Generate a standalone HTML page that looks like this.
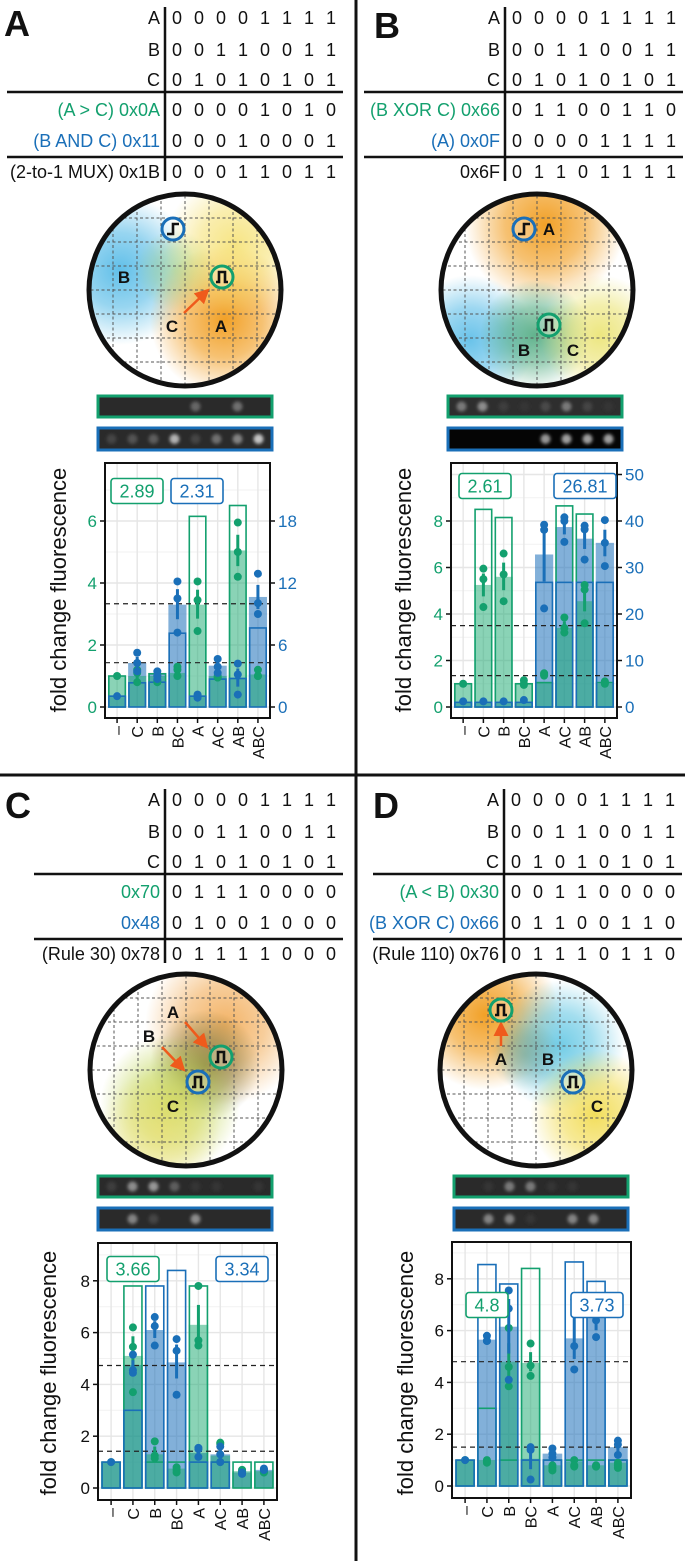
<!DOCTYPE html>
<html><head><meta charset="utf-8">
<style>
html,body{margin:0;padding:0;background:#fff;}
svg{display:block;font-family:"Liberation Sans",sans-serif;}
</style></head>
<body>
<svg id="fig" width="685" height="1561" viewBox="0 0 685 1561" xmlns="http://www.w3.org/2000/svg">
<defs>
  <marker id="arrowhead" markerWidth="6" markerHeight="6" refX="4" refY="3" orient="auto" markerUnits="strokeWidth">
    <path d="M0,0 L6,3 L0,6 Z" fill="#ef5a1c"/>
  </marker>
  <filter id="soft" x="-50%" y="-50%" width="200%" height="200%"><feGaussianBlur stdDeviation="1.6"/></filter>
</defs>
<line x1="356" y1="0" x2="356" y2="1561" stroke="#111" stroke-width="3"/>
<line x1="0" y1="775" x2="685" y2="775" stroke="#111" stroke-width="3"/>
<g id="layer"></g>
</svg>
<script>
const NS="http://www.w3.org/2000/svg";
const GREEN="#13a06e", BLUE="#1a6fb8";
const GFILL="rgba(22,168,110,0.5)", BFILL="rgba(28,112,185,0.55)";
const root=document.getElementById('layer');
function mk(tag,attrs,parent,text){
  const e=document.createElementNS(NS,tag);
  for(const k in attrs) e.setAttribute(k,attrs[k]);
  if(text!==undefined) e.textContent=text;
  (parent||root).appendChild(e);
  return e;
}

/* ---------------- data: categories ---------------- */
const categories=["\u2013","C","B","BC","A","AC","AB","ABC"];

/* Panel A (green in left units, blue in right units) */
const A_greenMean=[1.0,1.0,1.0,1.1,3.3,1.0,5.05,1.05];
const A_greenExp=[1.0,0,1.07,0,6.15,0,6.5,0];
const A_greenPts=[[1.0],[1.2,1.1,0.8],[1.0,0.85,0.8],[1.3,1.2,1.0],[4.05,3.45,2.45],[1.0,0.95,0.95],[5.95,5.0,4.2],[1.2,1.0,1.0]];
const A_blueMean=[1.05,4.26,3.3,9.9,1.05,4.0,2.85,10.65];
const A_blueExp=[1.05,2.34,2.4,7.14,1.05,2.7,2.76,7.65];
const A_bluePts=[[1.05],[5.25,4.26,3.45],[3.45,3.0,2.7],[12.15,10.5,7.2],[1.2,0.9,1.05],[4.65,3.9,3.3],[4.2,3.15,1.2],[12.9,10.05,9.0]];
const A_thresholds=[3.33,1.43];

/* Panel B */
const B_greenMean=[1.0,5.25,5.6,1.0,1.05,3.4,4.55,1.0];
const B_greenExp=[1.0,8.5,8.15,1.0,1.05,8.65,8.3,1.05];
const B_greenPts=[[1.0],[5.95,5.5,4.3],[6.6,5.7,4.55],[1.15,1.0,0.95],[1.45,1.4,1.35],[3.85,3.4,3.2],[5.25,5.05,3.6],[1.1,1.05,1.0]];
const B_blueMean=[1.0,1.0,1.0,1.0,32.8,38.7,36.2,35.3];
const B_blueExp=[1.0,1.0,1.0,1.0,26.8,26.8,26.8,26.8];
const B_bluePts=[[1.2],[1.2],[1.2],[1.5],[39.2,38.1,21.2],[40.8,40,35.5],[39,38.2,31.7],[40.2,35.3,30.3]];
const B_thresholds=[3.5,1.35];

/* Panel C */
const C_greenMean=[1.0,5.1,1.3,0.75,6.3,1.25,0.65,0.65];
const C_greenExp=[1.0,7.8,1.0,1.0,7.8,1.0,1.0,1.0];
const C_greenPts=[[1.0],[6.2,5.45,3.7],[1.8,1.25,1.15],[0.8,0.7,0.6],[7.8,5.7,5.5],[1.75,1.7,1.0],[0.7,0.65,0.65],[0.65,0.6,0.6]];
const C_blueMean=[1.0,4.75,6.1,4.85,1.35,1.3,0.6,0.7];
const C_blueExp=[1.0,3.0,7.8,8.4,1.0,1.0,0,0];
const C_bluePts=[[1.0],[5.15,4.55,4.45],[6.6,6.25,5.5],[5.75,5.3,3.6],[1.55,1.5,1.2],[1.6,1.3,1.0],[0.6,0.55,0.55],[0.75,0.7,0.7]];
const C_thresholds=[4.73,1.42];

/* Panel D */
const D_greenMean=[1.0,1.0,4.8,4.75,0.8,0.95,0.8,0.9];
const D_greenExp=[1.0,3.0,1.0,8.4,1.0,1.0,1.0,1.0];
const D_greenPts=[[1.0],[1.0,0.95,0.9],[6.1,4.6,3.85],[5.5,4.65,4.25],[0.8,0.7,0.6],[1.0,0.8,0.75],[0.8,0.75,0.75],[0.9,0.8,0.7]];
const D_blueMean=[1.0,5.65,6.15,1.05,1.25,5.7,6.8,1.5];
const D_blueExp=[1.0,8.55,7.8,1.0,1.0,8.65,7.9,1.0];
const D_bluePts=[[1.0],[5.8,5.6,5.6],[7.55,6.85,4.1],[1.5,1.4,0.25],[1.45,1.25,1.1],[7.2,5.4,4.5],[6.8,6.4,5.75],[1.75,1.6,1.2]];
const D_thresholds=[4.8,1.5];

/* tick labels */
const A_leftTicks=[0,2,4,6], A_rightTicks=[0,6,12,18];
const B_leftTicks=[0,2,4,6,8], B_rightTicks=[0,10,20,30,40,50];
const C_leftTicks=[0,2,4,6,8];
const D_leftTicks=[0,2,4,6,8];

/* truth tables */
const inA=[0,0,0,0,1,1,1,1], inB=[0,0,1,1,0,0,1,1], inC=[0,1,0,1,0,1,0,1];
const tables={
 A:{g:["(A > C) 0x0A",[0,0,0,0,1,0,1,0]],b:["(B AND C) 0x11",[0,0,0,1,0,0,0,1]],o:["(2-to-1 MUX) 0x1B",[0,0,0,1,1,0,1,1]]},
 B:{g:["(B XOR C) 0x66",[0,1,1,0,0,1,1,0]],b:["(A) 0x0F",[0,0,0,0,1,1,1,1]],o:["0x6F",[0,1,1,0,1,1,1,1]]},
 C:{g:["0x70",[0,1,1,1,0,0,0,0]],b:["0x48",[0,1,0,0,1,0,0,0]],o:["(Rule 30) 0x78",[0,1,1,1,1,0,0,0]]},
 D:{g:["(A < B) 0x30",[0,0,1,1,0,0,0,0]],b:["(B XOR C) 0x66",[0,1,1,0,0,1,1,0]],o:["(Rule 110) 0x76",[0,1,1,1,0,1,1,0]]}
};

/* gel lane brightness */
const gelA_g=[0,0,0,0,0.3,0,0.35,0], gelA_b=[0.12,0.2,0.25,0.7,0.12,0.35,0.45,0.8];
const gelB_g=[0.4,0.5,0.08,0.04,0.15,0.4,0.12,0.04], gelB_b=[0,0,0,0,0.55,0.6,0.6,0.6];
const gelC_g=[0.08,0.5,0.55,0.25,0.04,0.04,0,0.04], gelC_b=[0,0.45,0.12,0,0.5,0,0,0];
const gelD_g=[0,0.04,0.4,0.4,0.04,0.04,0,0], gelD_b=[0,0.45,0.45,0.04,0,0.45,0.45,0];

/* ---------------- panel labels ---------------- */
[["A",4,36],["B",374,38],["C",5,818],["D",373,818]].forEach(([t,x,y])=>{
  const e=mk('text',{x:x,y:y,'font-size':36,'font-weight':'bold',fill:'#111'},root,t);
  
  
});

/* ---------------- truth tables ---------------- */
function drawTable(key,vx,lineStart,dy){
  const g=mk('g',{});
  
  
  const cols=[0,1,2,3,4,5,6,7].map(i=>vx+12+i*22);
  const rows=[
    ["A",inA,"#111",24],["B",inB,"#111",56],["C",inC,"#111",86],
    [tables[key].g[0],tables[key].g[1],GREEN,116],
    [tables[key].b[0],tables[key].b[1],BLUE,147],
    [tables[key].o[0],tables[key].o[1],"#111",178]];
  rows.forEach((r,ri)=>{
    const lab=mk('text',{x:vx-5,y:r[3]+dy,'text-anchor':'end','font-size':18,fill:r[2]},g,r[0]);
    
    
    r[1].forEach((v,ci)=>{
      const t=mk('text',{x:cols[ci],y:r[3]+dy,'text-anchor':'middle','font-size':18,fill:'#111'},g,String(v));
      
      
    });
  });
  mk('line',{x1:vx,y1:7+dy,x2:vx,y2:181+dy,stroke:'#111','stroke-width':2.5},g);
  mk('line',{x1:lineStart,y1:92+dy,x2:vx+178,y2:92+dy,stroke:'#111','stroke-width':2.5},g);
  mk('line',{x1:lineStart,y1:157+dy,x2:vx+178,y2:157+dy,stroke:'#111','stroke-width':2.5},g);
}
drawTable("A",165,7,0);
drawTable("B",505,364,0);
drawTable("C",165,34,782);
drawTable("D",504,373,782);

/* ---------------- petri dishes ---------------- */
let gradId=0;
function blob(parent,defs,cx,cy,r,color,op){
  const id='gr'+(gradId++);
  const rg=mk('radialGradient',{id:id},defs);
  mk('stop',{offset:'0%','stop-color':color,'stop-opacity':op},rg);
  mk('stop',{offset:'50%','stop-color':color,'stop-opacity':op*0.65},rg);
  mk('stop',{offset:'100%','stop-color':color,'stop-opacity':0},rg);
  mk('circle',{cx:cx,cy:cy,r:r,fill:'url(#'+id+')'},parent);
}
function marker(parent,x,y,color,kind){
  const g=mk('g',{transform:`translate(${x},${y})`},parent);
  
  
  mk('circle',{r:11,fill:'rgba(255,255,255,0.25)',stroke:color,'stroke-width':3},g);
  const d= kind==='step' ? "M-6,5 H0 V-5 H6" : "M-6,5 H-3 V-5 H3 V5 H6";
  mk('path',{d:d,fill:'none',stroke:'#111','stroke-width':2.6},g);
}
function dish(name,cx,cy,blobs,markers,labels,arrows){
  const g=mk('g',{});
  
  
  const defs=mk('defs',{},g);
  const cid='clip'+name;
  const cp=mk('clipPath',{id:cid},defs);
  mk('circle',{cx:cx,cy:cy,r:96},cp);
  const inner=mk('g',{'clip-path':'url(#'+cid+')'},g);
  mk('circle',{cx:cx,cy:cy,r:96,fill:'#fff'},inner);
  blobs.forEach(b=>blob(inner,defs,b[0],b[1],b[2],b[3],b[4]));
  for(let k=-3;k<=3;k++){
    mk('line',{x1:cx+k*24,y1:cy-100,x2:cx+k*24,y2:cy+100,stroke:'#555','stroke-width':1,'stroke-dasharray':'3,2.5'},inner);
    mk('line',{x1:cx-100,y1:cy+k*24,x2:cx+100,y2:cy+k*24,stroke:'#555','stroke-width':1,'stroke-dasharray':'3,2.5'},inner);
  }
  mk('circle',{cx:cx,cy:cy,r:96,fill:'none',stroke:'#111','stroke-width':5},g);
  arrows.forEach(a=>mk('line',{x1:a[0],y1:a[1],x2:a[2],y2:a[3],stroke:'#ef5a1c','stroke-width':2.5,'marker-end':'url(#arrowhead)'},g));
  markers.forEach(m=>marker(g,m[0],m[1],m[2],m[3]));
  labels.forEach(l=>{
    const t=mk('text',{x:l[1],y:l[2]+6,'text-anchor':'middle','font-size':17,'font-weight':'bold',fill:'#111'},g,l[0]);
    
    
  });
}
dish("a",185,290,
 [[120,270,75,'#4fb8e6',0.9],[225,320,75,'#f0960f',0.9],[235,245,70,'#f4dc5a',0.75],[175,270,40,'#9cc850',0.4]],
 [[173,229,BLUE,'step'],[222,277,GREEN,'pulse']],
 [["B",124,277],["C",172,326],["A",221,326]],
 [[184,313,206,292]]);
dish("b",537,290,
 [[545,225,80,'#f0960f',0.9],[470,340,65,'#4fb8e6',0.85],[535,335,55,'#3aa070',0.8],[600,335,60,'#e8e060',0.8]],
 [[524,229,BLUE,'step'],[549,325,GREEN,'pulse']],
 [["A",549,229],["B",524,350],["C",573,350]],
 []);
dish("c",186,1070,
 [[225,1025,80,'#f0a040',0.8],[205,1065,55,'#6a6a30',0.7],[170,1105,70,'#b8d040',0.8],[160,1130,60,'#f0e070',0.6]],
 [[221,1057,GREEN,'pulse'],[198,1082,BLUE,'pulse']],
 [["A",173,1012],["B",149,1036],["C",173,1106]],
 [[185,1022,205,1045],[162,1047,182,1068]]);
dish("d",536,1070,
 [[485,1015,75,'#f0960f',0.9],[560,1045,65,'#4fc0e0',0.8],[595,1115,65,'#f0d840',0.85],[525,1055,35,'#5a8a70',0.4]],
 [[501,1010,GREEN,'pulse'],[573,1082,BLUE,'pulse']],
 [["A",501,1059],["B",548,1059],["C",597,1106]],
 [[501,1046,501,1026]]);

/* ---------------- gel strips ---------------- */
function gel(name,x,y,w,h,color,bg,lanes){
  const g=mk('g',{});
  
  
  mk('rect',{x:x,y:y,width:w,height:h,fill:bg,stroke:color,'stroke-width':3},g);
  const step=(w-6)/8;
  lanes.forEach((v,i)=>{
    if(v<=0) return;
    const c=Math.round(45+190*v);
    mk('circle',{cx:x+3+step*(i+0.5),cy:y+h/2,r:5,fill:`rgb(${c},${c},${c})`,filter:'url(#soft)'},g);
  });
}
gel("a-green",98,396,174,21,GREEN,'#2a2a2a',gelA_g);
gel("a-blue",98,428,174,22,BLUE,'#2a2a2a',gelA_b);
gel("b-green",448,396,174,21,GREEN,'#2e2e2e',gelB_g);
gel("b-blue",448,428,174,22,BLUE,'#050505',gelB_b);
gel("c-green",98,1176,174,21,GREEN,'#2a2a2a',gelC_g);
gel("c-blue",98,1208,174,22,BLUE,'#2a2a2a',gelC_b);
gel("d-green",454,1176,174,21,GREEN,'#2a2a2a',gelD_g);
gel("d-blue",454,1208,174,22,BLUE,'#2a2a2a',gelD_b);

/* ---------------- charts ---------------- */
function chart(cfg){
  const g=mk('g',{});
  
  
  const x0=cfg.x0,x1=cfg.x1,yT=cfg.yT,yB=cfg.yB;
  const step=(x1-x0)/8.2;
  const xc=i=>x0+step*(0.6+i);
  const yL=v=>cfg.y0-v*cfg.ppu;
  const yR=v=>yL(v/cfg.ratio);
  const bw=step*0.9;
  mk('rect',{x:x0,y:yT,width:x1-x0,height:yB-yT,fill:'#fff'},g);
  for(let v=1; yL(v)>yT; v+=2){ mk('line',{x1:x0,x2:x1,y1:yL(v),y2:yL(v),stroke:'#f2f2f2','stroke-width':1},g); }
  for(let v=0; yL(v)>yT; v+=2){ mk('line',{x1:x0,x2:x1,y1:yL(v),y2:yL(v),stroke:'#e6e6e6','stroke-width':1.4},g); }
  categories.forEach((c,i)=>mk('line',{x1:xc(i),x2:xc(i),y1:yT,y2:yB,stroke:'#e6e6e6','stroke-width':1.4},g));
  const gy=yL;
  const by=cfg.blueScale==='R'?yR:yL;
  categories.forEach((c,i)=>{
    const v=cfg.blueMean[i];
    const r=mk('rect',{x:xc(i)-bw/2,y:by(v),width:bw,height:cfg.y0-by(v),fill:BFILL},g);
    
    
  });
  categories.forEach((c,i)=>{
    const v=cfg.greenMean[i];
    const r=mk('rect',{x:xc(i)-bw/2,y:gy(v),width:bw,height:cfg.y0-gy(v),fill:GFILL},g);
    
    
  });
  categories.forEach((c,i)=>{
    const v=cfg.greenExp[i]; if(v<=0) return;
    const r=mk('rect',{x:xc(i)-bw/2+0.8,y:gy(v),width:bw-1.6,height:cfg.y0-gy(v),fill:'none',stroke:GREEN,'stroke-width':1.6},g);
    
    
  });
  categories.forEach((c,i)=>{
    const v=cfg.blueExp[i]; if(v<=0) return;
    const r=mk('rect',{x:xc(i)-bw/2+0.8,y:by(v),width:bw-1.6,height:cfg.y0-by(v),fill:'none',stroke:BLUE,'stroke-width':1.6},g);
    
    
  });
  cfg.thresholds.forEach(t=>{
    const l=mk('line',{x1:x0,x2:x1,y1:yL(t),y2:yL(t),stroke:'#222','stroke-width':1.2,'stroke-dasharray':'5,4'},g);
    
    
  });
  function pts(arr,col,yf,name){
    arr.forEach((p,i)=>{
      if(p.length>1){
        const m=p.reduce((a,b)=>a+b,0)/p.length;
        const sd=Math.sqrt(p.reduce((a,b)=>a+(b-m)*(b-m),0)/(p.length-1));
        const se=sd/Math.sqrt(p.length);
        const eb=mk('line',{x1:xc(i),x2:xc(i),y1:yf(m-se),y2:yf(m+se),stroke:col,'stroke-width':3},g);
        
        
      }
      p.forEach(v=>{
        const c=mk('circle',{cx:xc(i),cy:yf(v),r:4,fill:col},g);
        
        
      });
    });
  }
  pts(cfg.greenPts,GREEN,gy,'green');
  pts(cfg.bluePts,BLUE,by,'blue');
  mk('rect',{x:x0,y:yT,width:x1-x0,height:yB-yT,fill:'none',stroke:'#111','stroke-width':2},g);
  cfg.leftTicks.forEach(v=>{
    mk('line',{x1:x0-5,x2:x0,y1:yL(v),y2:yL(v),stroke:'#111','stroke-width':1.5},g);
    const t=mk('text',{x:x0-8,y:yL(v)+6,'text-anchor':'end','font-size':17,fill:cfg.leftColor},g,String(v));
    
    
  });
  if(cfg.rightTicks){
    cfg.rightTicks.forEach(v=>{
      mk('line',{x1:x1,x2:x1+5,y1:yR(v),y2:yR(v),stroke:'#111','stroke-width':1.5},g);
      const t=mk('text',{x:x1+8,y:yR(v)+6,'text-anchor':'start','font-size':17,fill:BLUE},g,String(v));
      
      
    });
  }
  categories.forEach((c,i)=>{
    mk('line',{x1:xc(i),x2:xc(i),y1:yB,y2:yB+5,stroke:'#111','stroke-width':1.5},g);
    const t=mk('text',{x:0,y:0,'text-anchor':'end','font-size':16,fill:'#111',transform:`translate(${xc(i)+6},${yB+8}) rotate(-90)`},g,c);
    
    
  });
  const yt=mk('text',{x:0,y:0,'text-anchor':'middle','font-size':22,fill:'#111',transform:`translate(${cfg.titleX},${cfg.titleY}) rotate(-90)`},g,'fold change fluorescence');
  
  
  cfg.boxes.forEach(b=>{
    const w=b[0].length*10+12;
    mk('rect',{x:b[1]-w/2,y:b[2]-12.5,width:w,height:25,rx:3,fill:'#fff',stroke:b[3],'stroke-width':1.6},g);
    const t=mk('text',{x:b[1],y:b[2]+6.5,'text-anchor':'middle','font-size':18,fill:b[3]},g,b[0]);
    
    
  });
}

chart({name:'a',x0:105,x1:270,yT:463,yB:718,y0:707,ppu:31,ratio:3,
  greenMean:A_greenMean,greenExp:A_greenExp,greenPts:A_greenPts,
  blueMean:A_blueMean,blueExp:A_blueExp,bluePts:A_bluePts,blueScale:'R',
  thresholds:A_thresholds,leftTicks:A_leftTicks,rightTicks:A_rightTicks,leftColor:GREEN,
  titleX:66,titleY:590,boxes:[["2.89",137,491,GREEN],["2.31",197,491,BLUE]]});
chart({name:'b',x0:451,x1:617,yT:463,yB:718,y0:707,ppu:23.25,ratio:5,
  greenMean:B_greenMean,greenExp:B_greenExp,greenPts:B_greenPts,
  blueMean:B_blueMean,blueExp:B_blueExp,bluePts:B_bluePts,blueScale:'R',
  thresholds:B_thresholds,leftTicks:B_leftTicks,rightTicks:B_rightTicks,leftColor:GREEN,
  titleX:411,titleY:590,boxes:[["2.61",485,486,GREEN],["26.81",585,486,BLUE]]});
chart({name:'c',x0:98,x1:277,yT:1243,yB:1500,y0:1488,ppu:25.9,ratio:1,
  greenMean:C_greenMean,greenExp:C_greenExp,greenPts:C_greenPts,
  blueMean:C_blueMean,blueExp:C_blueExp,bluePts:C_bluePts,blueScale:'L',
  thresholds:C_thresholds,leftTicks:C_leftTicks,rightTicks:null,leftColor:'#111',
  titleX:56,titleY:1373,boxes:[["3.66",133,1269,GREEN],["3.34",242,1269,BLUE]]});
chart({name:'d',x0:452,x1:631,yT:1242,yB:1498,y0:1486,ppu:25.9,ratio:1,
  greenMean:D_greenMean,greenExp:D_greenExp,greenPts:D_greenPts,
  blueMean:D_blueMean,blueExp:D_blueExp,bluePts:D_bluePts,blueScale:'L',
  thresholds:D_thresholds,leftTicks:D_leftTicks,rightTicks:null,leftColor:'#111',
  titleX:413,titleY:1373,boxes:[["4.8",487,1305,GREEN],["3.73",597,1305,BLUE]]});
</script>
</body></html>
